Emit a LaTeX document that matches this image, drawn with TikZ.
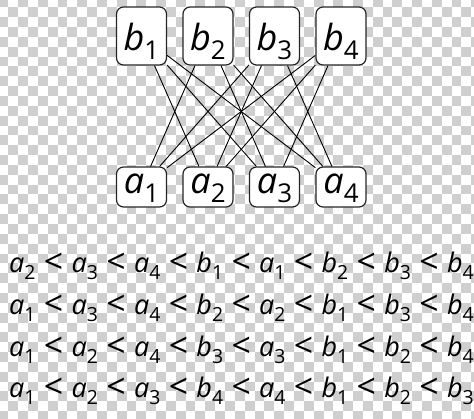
\documentclass[tikz,border=0pt]{standalone}
\usepackage{fontspec}
\setmainfont{Open Sans}
\usepackage{graphicx}
\newcommand{\vtx}[2]{\textit{#1}\raisebox{-.27em}{\scalebox{.72}{#2}}}
\newcommand{\lessthan}{\hspace{.31em}\raisebox{-.05em}{\scalebox{1.25}{<}}\hspace{.31em}}
\begin{document}
\begin{tikzpicture}[x=1pt, y=-1pt,
  vertex/.style={draw=black!85, line width=1.2pt, fill=white, rounded corners=7pt,
    minimum width=50pt, inner sep=0pt, font=\fontsize{36}{42}\selectfont},
  upper/.style={vertex, text height=43pt, text depth=15pt},
  lower/.style={vertex, text height=26pt, text depth=14pt},
  edge/.style={line width=0.9pt},
  chain/.style={anchor=base west, inner sep=0pt, font=\fontsize{27}{32}\selectfont}]
\definecolor{tile}{HTML}{CFCFCF}
\useasboundingbox (0,0) rectangle (474,418);
\clip (0,0) rectangle (474,418);
% transparency checkerboard
\foreach \i in {0,...,24}
  \foreach \j in {0,...,21} {
    \fill[tile] ({-1.55+19.7*\i},{-2.55+19.7*\j}) rectangle +(9.85,9.85);
    \fill[tile] ({8.3+19.7*\i},{7.3+19.7*\j}) rectangle +(9.85,9.85);
  }
% the poset
\node[upper] (b1) at (141.5,36) {\vtx{b}{1}};
\node[upper] (b2) at (208,36) {\vtx{b}{2}};
\node[upper] (b3) at (274.5,36) {\vtx{b}{3}};
\node[upper] (b4) at (341,36) {\vtx{b}{4}};
\node[lower] (a1) at (141.5,187) {\vtx{a}{1}};
\node[lower] (a2) at (208,187) {\vtx{a}{2}};
\node[lower] (a3) at (274.5,187) {\vtx{a}{3}};
\node[lower] (a4) at (341,187) {\vtx{a}{4}};
\draw[edge] (b1) -- (a2);
\draw[edge] (b1) -- (a3);
\draw[edge] (b1) -- (a4);
\draw[edge] (b2) -- (a1);
\draw[edge] (b2) -- (a3);
\draw[edge] (b2) -- (a4);
\draw[edge] (b3) -- (a1);
\draw[edge] (b3) -- (a2);
\draw[edge] (b3) -- (a4);
\draw[edge] (b4) -- (a1);
\draw[edge] (b4) -- (a2);
\draw[edge] (b4) -- (a3);
% linear extensions
\node[chain] (ext1) at (9,272) {\vtx{a}{2}\lessthan\vtx{a}{3}\lessthan\vtx{a}{4}\lessthan\vtx{b}{1}\lessthan\vtx{a}{1}\lessthan\vtx{b}{2}\lessthan\vtx{b}{3}\lessthan\vtx{b}{4}};
\node[chain] (ext2) at (9,314) {\vtx{a}{1}\lessthan\vtx{a}{3}\lessthan\vtx{a}{4}\lessthan\vtx{b}{2}\lessthan\vtx{a}{2}\lessthan\vtx{b}{1}\lessthan\vtx{b}{3}\lessthan\vtx{b}{4}};
\node[chain] (ext3) at (9,356) {\vtx{a}{1}\lessthan\vtx{a}{2}\lessthan\vtx{a}{4}\lessthan\vtx{b}{3}\lessthan\vtx{a}{3}\lessthan\vtx{b}{1}\lessthan\vtx{b}{2}\lessthan\vtx{b}{4}};
\node[chain] (ext4) at (9,397) {\vtx{a}{1}\lessthan\vtx{a}{2}\lessthan\vtx{a}{3}\lessthan\vtx{b}{4}\lessthan\vtx{a}{4}\lessthan\vtx{b}{1}\lessthan\vtx{b}{2}\lessthan\vtx{b}{3}};
\end{tikzpicture}
\end{document}
